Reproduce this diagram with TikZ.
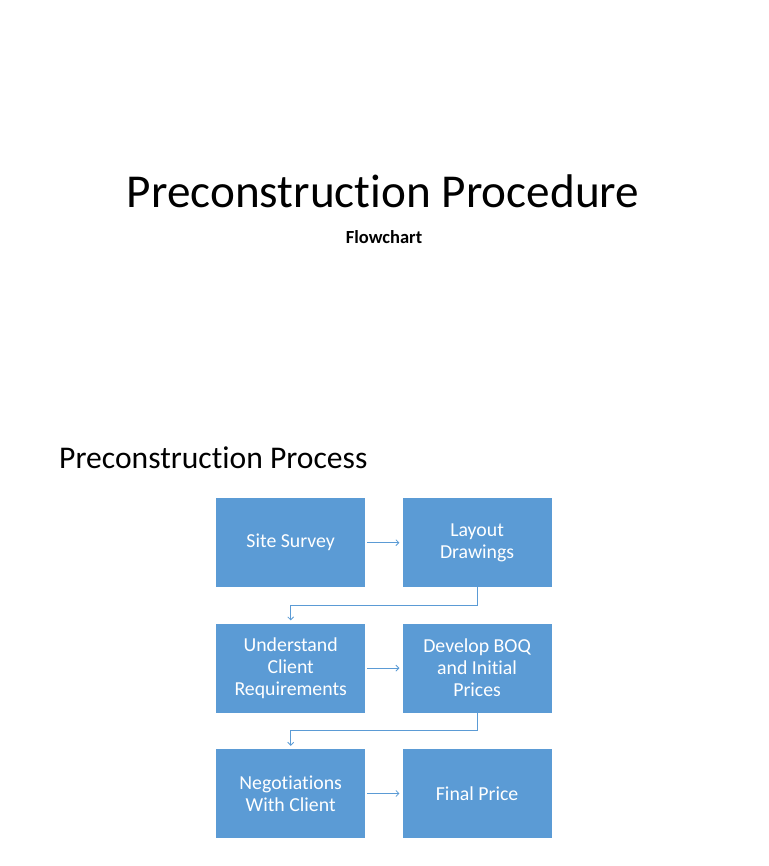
\documentclass[tikz,border=0pt]{standalone}
\usepackage{fontspec}
\setmainfont{Carlito}[Ligatures={NoCommon}]
\usetikzlibrary{positioning,arrows.meta}

\definecolor{boxblue}{HTML}{5B9BD5}

\tikzset{
    stepbox/.style={
        rectangle, fill=boxblue, draw=none,
        minimum width=149pt, minimum height=89pt,
        inner sep=2pt, align=center, text=white,
        font=\fontsize{19.8}{22}\selectfont
    },
    link/.style={
        draw=boxblue, line width=0.8pt,
        -{Straight Barb[length=3pt,width=6pt]}
    }
}

\begin{document}
\begin{tikzpicture}[x=1pt, y=-1pt]

        %----- PAGE FRAME -----
        \useasboundingbox (0,0) rectangle (768,866);

        %----- TITLES -----
        \node[anchor=base, font=\fontsize{47.2}{50}\selectfont] (title)
            at (383,208) {Preconstruction Procedure};
        \node[anchor=base, font=\bfseries\fontsize{18.5}{21}\selectfont] (subtitle)
            at (384,244) {Flowchart};
        \node[anchor=base west, inner sep=0pt, font=\fontsize{31.6}{36}\selectfont] (section)
            at (59,468) {Preconstruction Process};

        %----- STEPS -----
        \node[stepbox, anchor=north west] (survey) at (216,498) {Site Survey};
        \node[stepbox, right=37pt of survey] (layout) {Layout\\Drawings};
        \node[stepbox, below=36pt of survey] (client) {Understand\\Client\\Requirements};
        \node[stepbox, right=37pt of client] (boq) {Develop BOQ\\and Initial\\Prices};
        \node[stepbox, below=36pt of client] (talks) {Negotiations\\With Client};
        \node[stepbox, right=37pt of talks] (price) {Final Price};

        %----- CONNECTORS -----
        \draw[link, shorten <=2pt, shorten >=3pt] (survey) -- (layout);
        \draw[link, shorten >=3pt] (layout.south) -- ++(0,18) -| (client.north);
        \draw[link, shorten <=2pt, shorten >=3pt] (client) -- (boq);
        \draw[link, shorten >=3pt] (boq.south) -- ++(0,18) -| (talks.north);
        \draw[link, shorten <=2pt, shorten >=3pt] (talks) -- (price);

\end{tikzpicture}
\end{document}
